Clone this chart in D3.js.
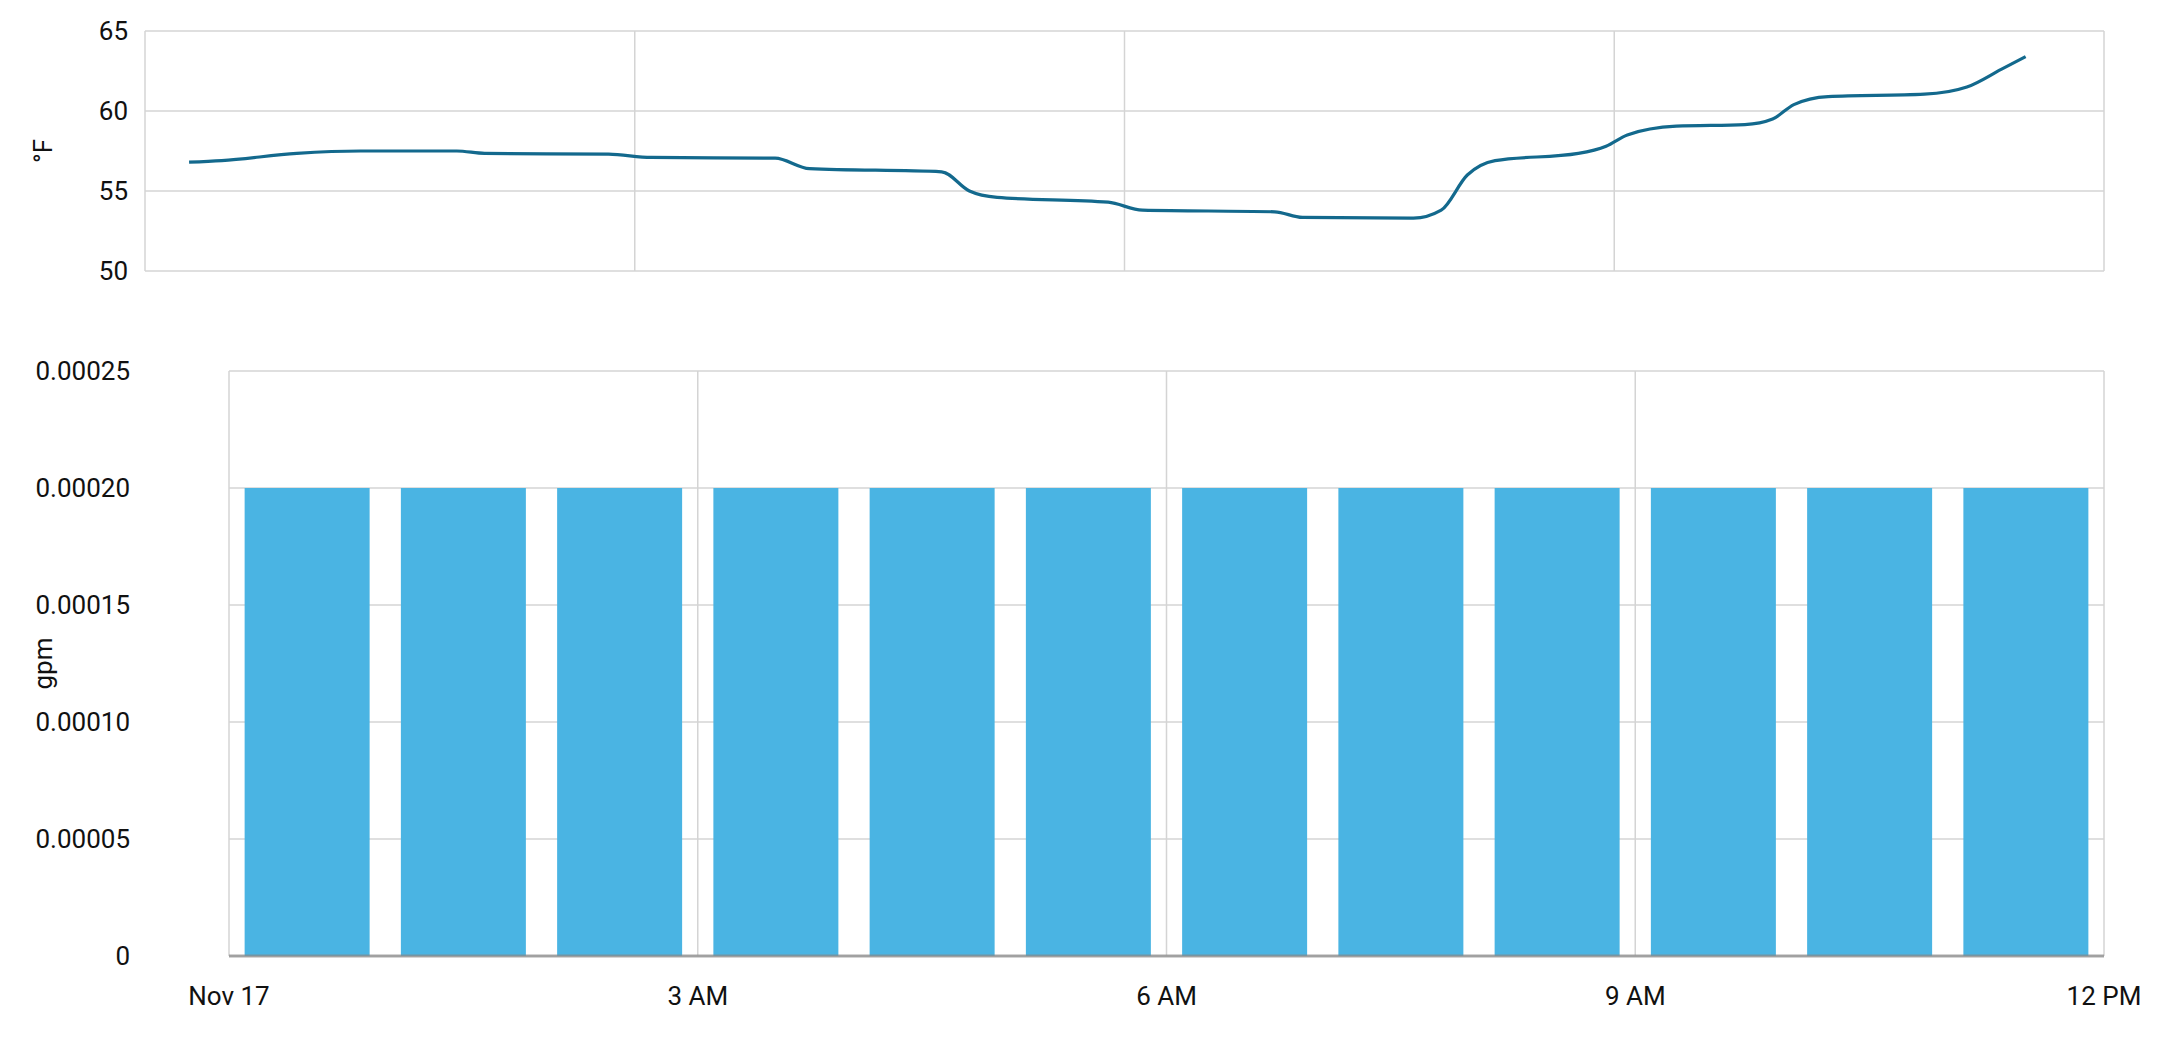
<!DOCTYPE html>
<html><head><meta charset="utf-8">
<script src="https://cdn.jsdelivr.net/npm/d3@7"></script>
<style>
body{margin:0;background:#fff;font-family:Roboto,"Noto Sans",sans-serif;}
text{font-family:Roboto,"Noto Sans",sans-serif;fill:#111;}
</style></head>
<body><svg id="chart" width="2172" height="1048"></svg>
<script>
// temperature, hours since Nov 17 00:00
var tempHours = [0.27,0.47,0.93,1.32,1.91,2.08,2.84,3.1,3.86,4.07,4.88,5.05,5.22,5.9,6.11,6.92,7.09,7.77,7.94,8.1,8.27,8.78,8.95,9.08,9.38,9.8,9.97,10.1,10.31,10.9,11.16,11.37,11.52];
var tempValues = [56.8,56.9,57.35,57.5,57.5,57.35,57.3,57.1,57.05,56.4,56.2,55.0,54.6,54.3,53.8,53.7,53.35,53.3,53.8,56.0,56.9,57.35,57.8,58.5,59.05,59.15,59.5,60.4,60.9,61.05,61.5,62.6,63.4];
// flow, hourly bins
var flowHours = [0,1,2,3,4,5,6,7,8,9,10,11];
var flowValues = [0.0002,0.0002,0.0002,0.0002,0.0002,0.0002,0.0002,0.0002,0.0002,0.0002,0.0002,0.0002];
var tempTicks = [50,55,60,65];
var flowTicks = [0,0.00005,0.0001,0.00015,0.0002,0.00025];
var timeTicks = [0,3,6,9,12];
var timeLabels = ["Nov 17","3 AM","6 AM","9 AM","12 PM"];

var svg = d3.select("#chart");
var grid = "#d4d4d4";

// ---- top: temperature
var xt = d3.scaleLinear().domain([0,12]).range([145,2104]);
var yt = d3.scaleLinear().domain([50,65]).range([271,31]);
var gt = svg.append("g");
gt.selectAll(".hg").data(tempTicks).enter().append("line")
  .attr("x1",xt(0)).attr("x2",xt(12)).attr("y1",d=>yt(d)).attr("y2",d=>yt(d))
  .attr("stroke",grid).attr("stroke-width",1.5);
gt.selectAll(".vg").data(timeTicks).enter().append("line")
  .attr("x1",d=>xt(d)).attr("x2",d=>xt(d)).attr("y1",yt(65)).attr("y2",yt(50))
  .attr("stroke",grid).attr("stroke-width",1.5);
gt.selectAll(".yl").data(tempTicks).enter().append("text")
  .attr("x",128).attr("y",d=>yt(d)).attr("dy","0.35em").attr("text-anchor","end")
  .attr("font-size",26).text(d=>d);
gt.append("text").attr("transform","translate(52,"+yt(57.5)+") rotate(-90)")
  .attr("text-anchor","middle").attr("font-size",26).text("°F");
var line = d3.line().x((d,i)=>xt(tempHours[i])).y(d=>yt(d)).curve(d3.curveMonotoneX);
gt.append("path").datum(tempValues).attr("d",line).attr("fill","none")
  .attr("stroke","#13698d").attr("stroke-width",3.2);

// ---- bottom: flow
var xb = d3.scaleLinear().domain([0,12]).range([229,2104]);
var xband = d3.scaleBand().domain(flowHours).range([xb(0),xb(12)]).paddingInner(0.2).paddingOuter(0.1);
var yb = d3.scaleLinear().domain([0,0.00025]).range([956,371]);
var gb = svg.append("g");
gb.selectAll(".hg").data(flowTicks).enter().append("line")
  .attr("x1",xb(0)).attr("x2",xb(12)).attr("y1",d=>yb(d)).attr("y2",d=>yb(d))
  .attr("stroke",grid).attr("stroke-width",1.5);
gb.selectAll(".vg").data(timeTicks).enter().append("line")
  .attr("x1",d=>xb(d)).attr("x2",d=>xb(d)).attr("y1",yb(0.00025)).attr("y2",yb(0))
  .attr("stroke",grid).attr("stroke-width",1.5);
gb.selectAll("rect").data(flowValues).enter().append("rect")
  .attr("x",(d,i)=>xband(flowHours[i])).attr("width",xband.bandwidth())
  .attr("y",d=>yb(d)).attr("height",d=>yb(0)-yb(d)).attr("fill","#4ab4e3");
gb.append("line").attr("x1",xb(0)).attr("x2",xb(12)).attr("y1",yb(0)).attr("y2",yb(0))
  .attr("stroke","#888").attr("stroke-width",3).attr("opacity",0.7);
gb.selectAll(".yl").data(flowTicks).enter().append("text")
  .attr("x",130).attr("y",d=>yb(d)).attr("dy","0.35em").attr("text-anchor","end")
  .attr("font-size",26).text(d=>d===0?"0":d.toFixed(5));
gb.append("text").attr("transform","translate(52,"+yb(0.000125)+") rotate(-90)")
  .attr("text-anchor","middle").attr("font-size",26).text("gpm");
gb.selectAll(".xl").data(timeTicks).enter().append("text")
  .attr("x",d=>xb(d)).attr("y",996).attr("dy","0.35em").attr("text-anchor","middle")
  .attr("font-size",26).text((d,i)=>timeLabels[i]);
</script></body></html>
